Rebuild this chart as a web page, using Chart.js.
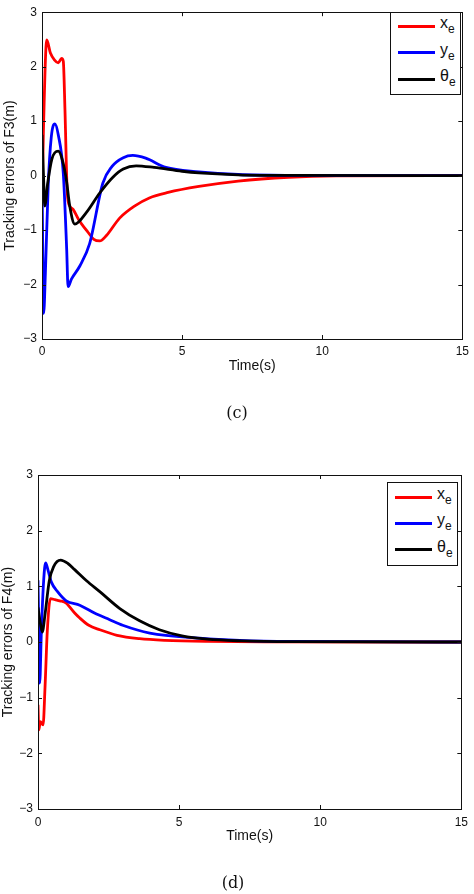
<!DOCTYPE html>
<html><head><meta charset="utf-8">
<script src="https://cdn.jsdelivr.net/npm/chart.js@4.4.0/dist/chart.umd.min.js"></script>
<style>
html,body{margin:0;padding:0;background:#fff;width:474px;height:894px;overflow:hidden;}
.wrap{position:absolute;left:0;width:474px;height:447px;}
.legend{position:absolute;border:1px solid #111;background:#fff;font-family:"Liberation Sans",Arial,sans-serif;color:#111;box-sizing:border-box;}
.sw{position:absolute;height:3px;}
.lab{position:absolute;font-size:16px;line-height:18px;}
.lab sub{font-size:12px;vertical-align:-5px;}
.cap{position:absolute;font-family:"DejaVu Serif","Liberation Serif",serif;font-size:16px;line-height:16px;color:#111;transform:translate(-50%,-50%);}
</style></head><body>
<div class="wrap" style="top:0"><canvas id="c1" width="474" height="447"></canvas></div>
<div class="wrap" style="top:447px"><canvas id="c2" width="474" height="447"></canvas></div>
<div id="leg1" class="legend" style="left:390px;top:12px;width:71px;height:83px;"></div>
<div id="leg2" class="legend" style="left:387px;top:482px;width:71px;height:84px;"></div>
<div class="cap" style="left:237px;top:413px;">(c)</div>
<div class="cap" style="left:233px;top:883px;">(d)</div>
<script>
// ---- tick labels ----
const xTickValues = [0, 5, 10, 15];
const yTickValues = [-3, -2, -1, 0, 1, 2, 3];
const seriesBase = ['x', 'y', 'θ'];
const seriesSub = ['e', 'e', 'e'];
const xTitle = 'Time(s)';
const yTitleC = 'Tracking errors of F3(m)';
const yTitleD = 'Tracking errors of F4(m)';

// ---- (c) F3 ----
const f3XeTime  = [0, 0.05, 0.17, 0.3, 0.45, 0.58, 0.7, 0.76, 0.82, 0.9, 0.99, 1.11, 1.3, 1.64, 1.85, 2.06, 2.3, 2.77, 3.3, 3.83, 4.5, 5.6, 7.0, 8.8, 10.5, 15];
const f3XeValue = [-0.5, 0.8, 2.49, 2.25, 2.12, 2.07, 2.15, 2.1, 1.2, -0.3, -0.56, -0.62, -0.8, -1.04, -1.17, -1.2, -1.1, -0.78, -0.56, -0.41, -0.31, -0.2, -0.1, -0.03, -0.005, 0];
const f3YeTime  = [0, 0.03, 0.06, 0.12, 0.22, 0.33, 0.46, 0.58, 0.76, 0.88, 0.93, 1.05, 1.35, 1.7, 2.17, 2.5, 2.9, 3.24, 3.7, 4.42, 5.6, 7.0, 9.0, 15];
const f3YeValue = [0, -1.5, -2.53, -1.8, -0.2, 0.7, 0.95, 0.75, 0.04, -1.34, -2.04, -1.9, -1.66, -1.25, -0.14, 0.17, 0.33, 0.37, 0.32, 0.15, 0.07, 0.02, 0.005, 0];
const f3ThTime  = [0, 0.05, 0.1, 0.2, 0.35, 0.58, 0.72, 0.87, 0.99, 1.17, 1.58, 2.06, 2.53, 2.9, 3.36, 4.0, 5.0, 5.6, 7.0, 9.0, 15];
const f3ThValue = [0.75, 0.05, -0.56, -0.15, 0.3, 0.45, 0.3, -0.08, -0.56, -0.89, -0.68, -0.32, -0.03, 0.12, 0.18, 0.15, 0.08, 0.05, 0.015, 0.003, 0];

// ---- (d) F4 ----
const f4XeTime  = [0, 0.03, 0.08, 0.18, 0.25, 0.33, 0.44, 0.6, 0.77, 1.0, 1.12, 1.3, 1.48, 1.8, 2.19, 2.8, 3.6, 4.5, 6.0, 8.0, 15];
const f4XeValue = [-1.13, -1.58, -1.43, -1.49, -0.8, 0.2, 0.78, 0.76, 0.74, 0.7, 0.63, 0.52, 0.43, 0.3, 0.22, 0.12, 0.06, 0.03, 0.01, 0.002, 0];
const f4YeTime  = [0, 0.03, 0.06, 0.12, 0.2, 0.27, 0.35, 0.47, 0.7, 1.0, 1.48, 2.0, 2.54, 3.0, 3.96, 5.73, 7.15, 9.0, 15];
const f4YeValue = [1.11, 0.2, -0.74, 0.2, 1.1, 1.42, 1.3, 1.08, 0.9, 0.74, 0.66, 0.52, 0.4, 0.3, 0.16, 0.07, 0.03, 0.01, 0];
const f4ThTime  = [0, 0.08, 0.15, 0.25, 0.4, 0.55, 0.8, 1.06, 1.3, 1.72, 2.2, 2.9, 3.6, 4.3, 5.1, 6.0, 7.2, 9.0, 15];
const f4ThValue = [0.62, 0.35, 0.18, 0.5, 1.1, 1.35, 1.47, 1.41, 1.3, 1.1, 0.9, 0.6, 0.38, 0.22, 0.11, 0.05, 0.02, 0.005, 0];

// ---- styles ----
const colors = ['#ff0000', '#0000ff', '#000000'];
const FONT = '"Liberation Sans", Arial, sans-serif';
const INK = '#111';

function pairs(ts, vs) { return ts.map((t, i) => ({x: t, y: vs[i]})); }

const framePlugin = {
  id: 'frame',
  afterDatasetsDraw(chart) {
    const {ctx, chartArea: a, scales} = chart;
    ctx.save();
    ctx.strokeStyle = INK;
    ctx.lineWidth = 1;
    ctx.strokeRect(Math.round(a.left) + 0.5, Math.round(a.top) + 0.5, Math.round(a.right - a.left), Math.round(a.bottom - a.top));
    const L = 4;
    ctx.beginPath();
    xTickValues.forEach(v => {
      const px = Math.round(scales.x.getPixelForValue(v)) + 0.5;
      ctx.moveTo(px, a.bottom); ctx.lineTo(px, a.bottom - L);
      ctx.moveTo(px, a.top); ctx.lineTo(px, a.top + L);
    });
    yTickValues.forEach(v => {
      const py = Math.round(scales.y.getPixelForValue(v)) + 0.5;
      ctx.moveTo(a.left, py); ctx.lineTo(a.left + L, py);
      ctx.moveTo(a.right, py); ctx.lineTo(a.right - L, py);
    });
    ctx.stroke();
    ctx.restore();
  }
};

function makeChart(id, series, yTitle, geo) {
  const datasets = series.map((s, i) => ({
    label: seriesBase[i] + seriesSub[i],
    data: s,
    borderColor: colors[i],
    backgroundColor: colors[i],
    borderWidth: 2.8,
    pointRadius: 0,
    fill: false,
    cubicInterpolationMode: 'monotone',
    order: 3 - i
  }));
  return new Chart(document.getElementById(id), {
    type: 'line',
    data: {datasets},
    plugins: [framePlugin],
    options: {
      responsive: false,
      animation: false,
      devicePixelRatio: 1,
      layout: {padding: {top: geo.top, right: geo.right, left: 0, bottom: 0}},
      plugins: {legend: {display: false}, tooltip: {enabled: false}},
      scales: {
        x: {
          type: 'linear', min: 0, max: 15,
          grid: {display: false, drawTicks: false},
          border: {display: false},
          afterBuildTicks: s => { s.ticks = xTickValues.map(v => ({value: v})); },
          afterFit: s => { s.height = geo.xh; },
          ticks: {padding: geo.tp, color: INK, font: {family: FONT, size: 12}, maxRotation: 0},
          title: {display: true, text: xTitle, color: INK, font: {family: FONT, size: 14}, padding: {top: 0, bottom: geo.tb}}
        },
        y: {
          type: 'linear', min: -3, max: 3,
          grid: {display: false, drawTicks: false},
          border: {display: false},
          afterBuildTicks: s => { s.ticks = yTickValues.map(v => ({value: v})); },
          afterFit: s => { s.width = geo.yw; },
          ticks: {padding: 5, color: INK, font: {family: FONT, size: 12}, callback: v => String(v).replace('-', '\u2212')},
          title: {display: true, text: yTitle, color: INK, font: {family: FONT, size: 14}, padding: {top: geo.yp, bottom: 0}}
        }
      }
    }
  });
}

makeChart('c1', [pairs(f3XeTime, f3XeValue), pairs(f3YeTime, f3YeValue), pairs(f3ThTime, f3ThValue)], yTitleC,
  {top: 5, right: 8, xh: 108, yw: 42, tp: 5, tb: 72, yp: 2});
makeChart('c2', [pairs(f4XeTime, f4XeValue), pairs(f4YeTime, f4YeValue), pairs(f4ThTime, f4ThValue)], yTitleD,
  {top: 28, right: 11, xh: 85, yw: 38, tp: 6, tb: 49, yp: 0});

function buildLegend(id, lineYs) {
  const box = document.getElementById(id);
  seriesBase.forEach((b, i) => {
    const sw = document.createElement('div');
    sw.className = 'sw';
    sw.style.left = '7px'; sw.style.width = '37px';
    sw.style.top = (lineYs[i] - 1.5) + 'px';
    sw.style.background = colors[i];
    box.appendChild(sw);
    const lab = document.createElement('div');
    lab.className = 'lab';
    lab.style.left = '49px';
    lab.style.top = (lineYs[i] - 12) + 'px';
    lab.innerHTML = b + '<sub>' + seriesSub[i] + '</sub>';
    box.appendChild(lab);
  });
}
buildLegend('leg1', [13, 39.5, 66]);
buildLegend('leg2', [14, 40, 66.5]);
</script>
</body></html>
